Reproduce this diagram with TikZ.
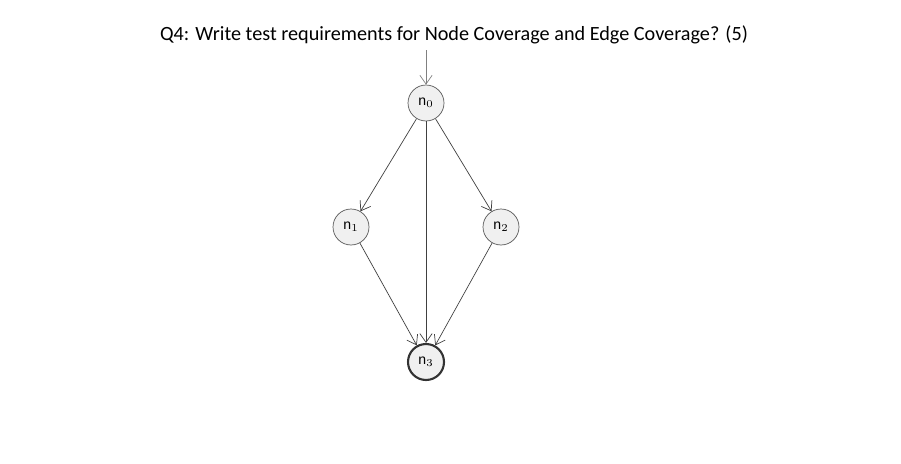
\documentclass[tikz,border=0pt]{standalone}
\usepackage{fontspec}
\setmainfont{Carlito}
\setsansfont{Liberation Sans}
\usetikzlibrary{arrows.meta}
\begin{document}
\begin{tikzpicture}[
        x=0.02cm, y=-0.02cm,
        >={Straight Barb[length=5pt,width=7pt]},
        state/.style={circle, draw=gray!70!black, fill=gray!12, minimum size=0.72cm, inner sep=0pt, font=\sffamily\footnotesize},
        final/.style={state, draw=black!80, line width=1.2pt},
        edge/.style={->, draw=black!75, thin}
        ]
        \useasboundingbox (0,0) rectangle (901,463);
        \node[font=\fontsize{11.5}{14}\selectfont] (title) at (454,35) {Q4: Write test requirements for Node Coverage and Edge Coverage? (5)};
        \coordinate (start) at (426,50);
        \node[state] (0) at (426,103) {n$_0$};
        \node[state] (1) at (351,227) {n$_1$};
        \node[state] (2) at (501,227) {n$_2$};
        \node[final] (3) at (426,362) {n$_3$};
        \draw[edge, draw=gray] (start) -- (0);
        \path[edge]
              (0) edge (1)
              (0) edge (2)
              (0) edge (3)
              (1) edge (3)
              (2) edge (3);
\end{tikzpicture}
\end{document}
